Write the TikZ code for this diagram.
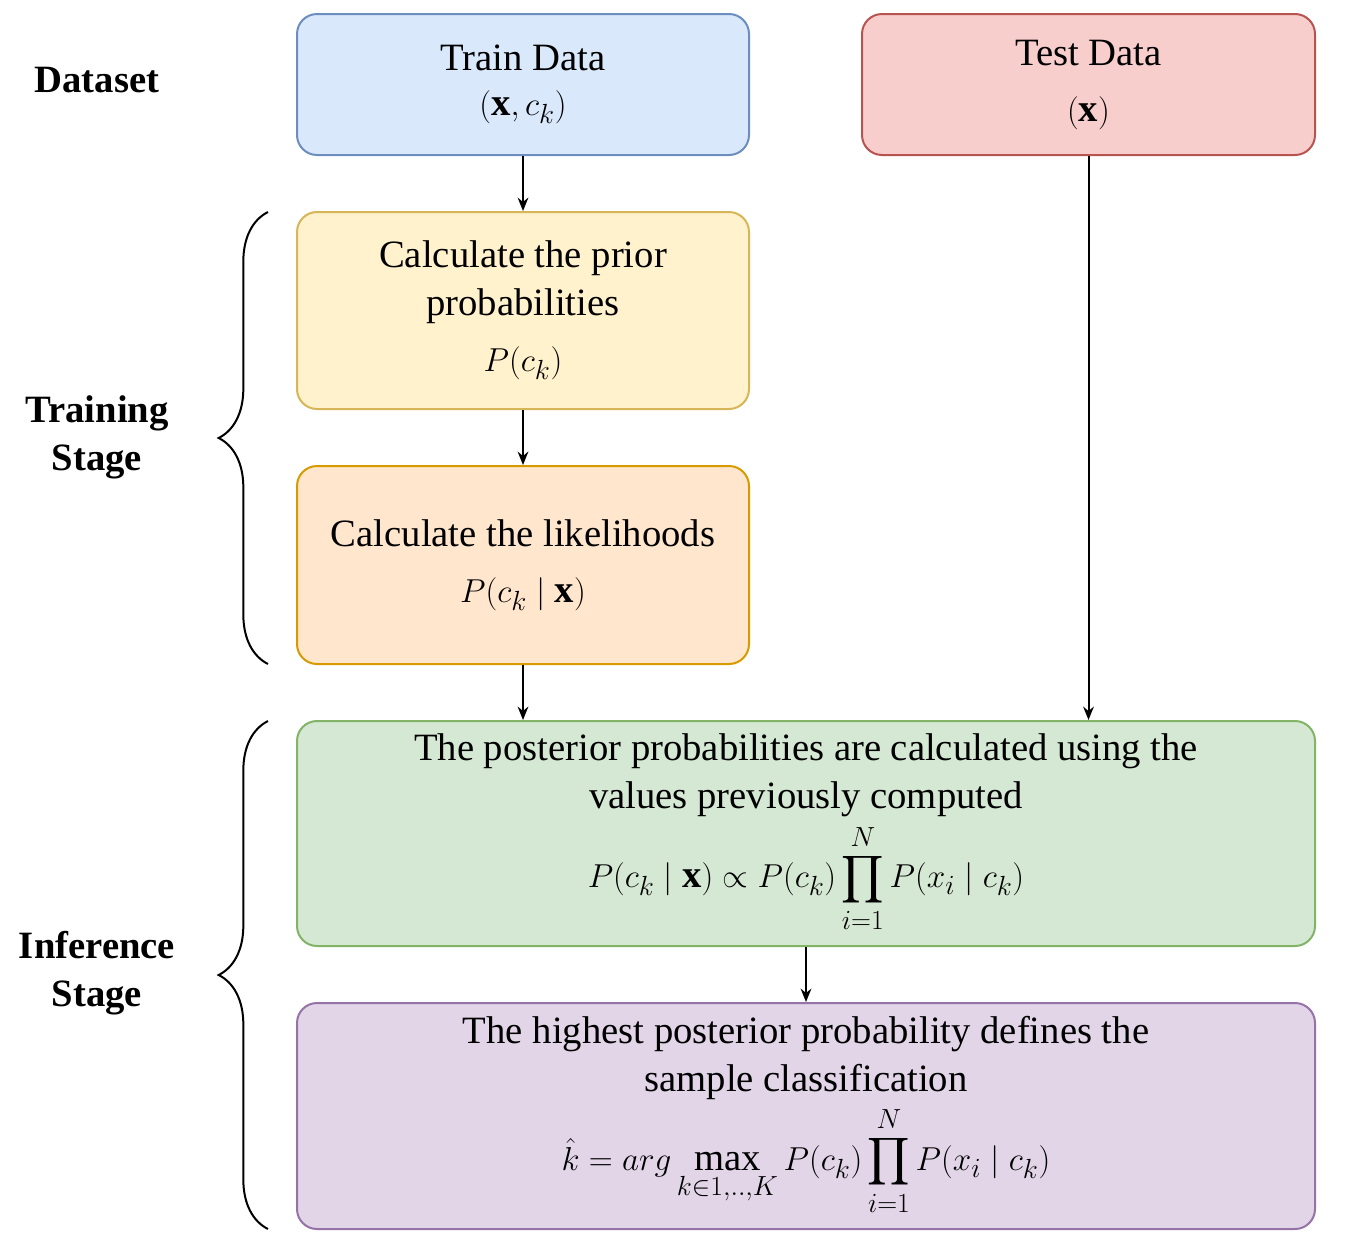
\documentclass[tikz,border=0pt]{standalone}
\usepackage{amsmath}
\usepackage{fontspec}
\setmainfont{Liberation Serif}
\usetikzlibrary{decorations.pathreplacing,arrows.meta}
\definecolor{bF}{HTML}{DAE8FC}\definecolor{bS}{HTML}{6C8EBF}
\definecolor{rF}{HTML}{F8CECC}\definecolor{rS}{HTML}{B85450}
\definecolor{yF}{HTML}{FFF2CC}\definecolor{yS}{HTML}{D6B656}
\definecolor{oF}{HTML}{FFE6CC}\definecolor{oS}{HTML}{D79B00}
\definecolor{gF}{HTML}{D5E8D4}\definecolor{gS}{HTML}{82B366}
\definecolor{pF}{HTML}{E1D5E7}\definecolor{pS}{HTML}{9673A6}
\begin{document}
\begin{tikzpicture}[x=0.75pt,y=-0.75pt,
  box/.style={draw,line width=1.5pt,rounded corners=15pt,align=center,inner sep=0pt,font=\fontsize{29}{36}\selectfont},
  arr/.style={-{Stealth[length=10pt,width=8pt]},line width=1.5pt},
  lab/.style={font=\fontsize{29}{36}\selectfont\bfseries,align=center},
  br/.style={decorate,decoration={brace,amplitude=37pt},line width=1.5pt}]
\useasboundingbox (0,0) rectangle (1346,1236);
\node[box,fill=bF,draw=bS,minimum width=452*0.75pt,minimum height=141*0.75pt] (train) at (523,84.5) {Train Data\\[-2pt]$(\mathbf{x},c_k)$};
\node[box,fill=rF,draw=rS,minimum width=453*0.75pt,minimum height=141*0.75pt] (test) at (1088.5,84.5) {Test Data\\[6pt]$(\mathbf{x})$};
\node[box,fill=yF,draw=yS,minimum width=452*0.75pt,minimum height=197*0.75pt] (prior) at (523,310.5) {Calculate the prior\\probabilities\\[6pt]$P(c_k)$};
\node[box,fill=oF,draw=oS,minimum width=452*0.75pt,minimum height=198*0.75pt] (lik) at (523,565) {Calculate the likelihoods\\[6pt]$P(c_k\mid\mathbf{x})$};
\node[box,fill=gF,draw=gS,minimum width=1018*0.75pt,minimum height=225*0.75pt] (post) at (806,833.5) {The posterior probabilities are calculated using the\\values previously computed\\[4pt]$\displaystyle P(c_k\mid\mathbf{x})\propto P(c_k)\prod_{i=1}^{N}P(x_i\mid c_k)$};
\node[box,fill=pF,draw=pS,minimum width=1018*0.75pt,minimum height=226*0.75pt] (high) at (806,1116) {The highest posterior probability defines the\\sample classification\\[4pt]$\displaystyle \hat{k}=arg\max_{k\in1,..,K}P(c_k)\prod_{i=1}^{N}P(x_i\mid c_k)$};
\draw[arr] (train) -- (prior);
\draw[arr] (prior) -- (lik);
\draw[arr] (lik.south) -- (lik.south|-post.north);
\draw[arr] (test.south) -- (test.south|-post.north);
\draw[arr] (post) -- (high);
\coordinate (b1a) at (268,664); \coordinate (b1b) at (268,212);
\coordinate (b2a) at (268,1229); \coordinate (b2b) at (268,721);
\draw[br] (b1a) -- (b1b);
\draw[br] (b2a) -- (b2b);
\node[lab] (ds) at (97,80) {Dataset};
\node[lab] (ts) at (97,437) {Training\\Stage};
\node[lab] (is) at (97,973) {Inference\\Stage};
\end{tikzpicture}
\end{document}
